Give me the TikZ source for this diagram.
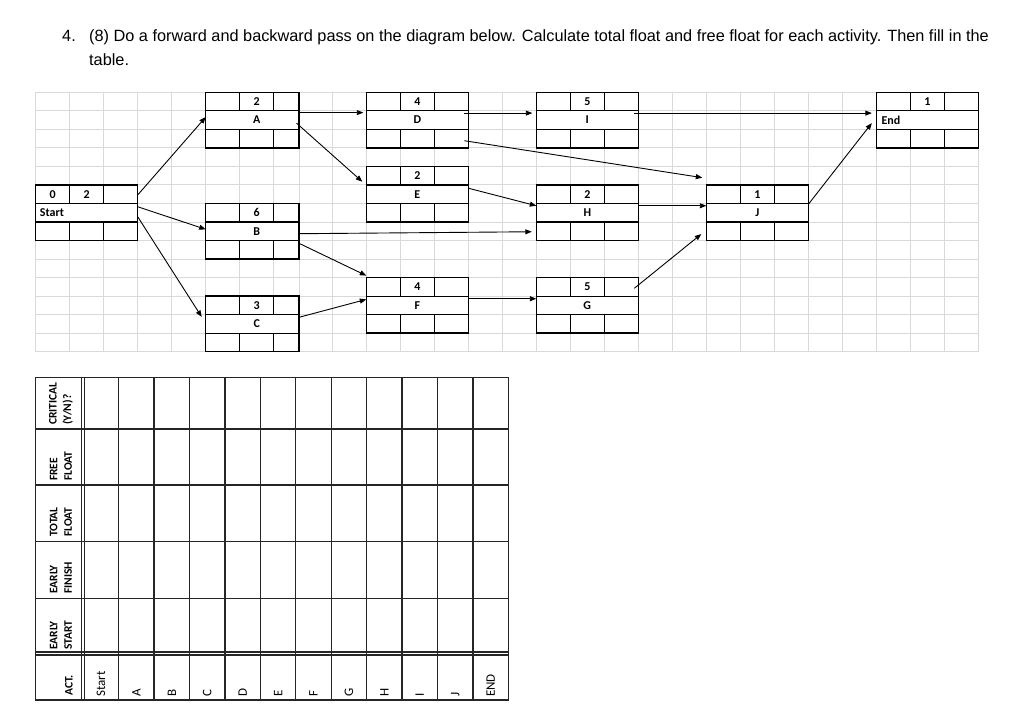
\documentclass[tikz,border=0pt]{standalone}
\usepackage{fontspec}
\setmainfont{Carlito}
\newfontfamily\titlefont{Liberation Sans}
\usetikzlibrary{arrows.meta}
\definecolor{gridgray}{RGB}{217,217,217}
\tikzset{
    gridline/.style={gridgray, line width=1pt},
    actnode/.style={draw, line width=1.5pt, fill=white, inner sep=0pt, outer sep=0pt, minimum height=55.6pt},
    boxline/.style={line width=1.2pt},
    celltext/.style={inner sep=0pt, font=\bfseries\fontsize{12}{14}\selectfont},
    arr/.style={line width=0.9pt, -{Triangle[length=6.5pt,width=5pt]}},
    tabline/.style={line width=1.3pt, black!85},
    headtext/.style={rotate=90, anchor=west, align=left, inner sep=0pt, font=\bfseries\fontsize{11.5}{14.5}\selectfont},
    acttext/.style={rotate=90, anchor=west, inner sep=0pt, font=\fontsize{13}{15}\selectfont},
    titletext/.style={anchor=base west, inner sep=0pt, font=\titlefont\fontsize{16.3}{20}\selectfont}
}
\newcommand{\actbox}[6]{%
    \node[actnode, minimum width=#4pt, anchor=north west] (#1) at (#2,#3) {};
    \draw[boxline] ([yshift=-18.53pt]#1.north west) -- ([yshift=-18.53pt]#1.north east)
        ([yshift=18.53pt]#1.south west) -- ([yshift=18.53pt]#1.south east)
        ([xshift=34pt]#1.north west) -- ++(0,18.53) ([xshift=68pt]#1.north west) -- ++(0,18.53)
        ([xshift=34pt]#1.south west) -- ++(0,-18.53) ([xshift=68pt]#1.south west) -- ++(0,-18.53);
    \node[celltext] (#1-dur) at ([shift={(51pt,-9.27pt)}]#1.north west) {#5};
    \node[celltext] (#1-name) at ([shift={(51pt,-27.8pt)}]#1.north west) {#6};
}
\begin{document}
\begin{tikzpicture}[x=1pt, y=-1pt]
    \useasboundingbox (0,0) rectangle (1024,713);

    \node[titletext] (num) at (62,41) {4.};
    \node[titletext] (ttl1) at (89,41) {(8) Do a forward and backward pass on the diagram below. Calculate total float and free float for each activity. Then fill in the};
    \node[titletext] (ttl2) at (89,65.3) {table.};

    \foreach \k in {0,...,14} \draw[gridline] (35.7,{92.3+18.53*\k}) -- (978.3,{92.3+18.53*\k});
    \foreach \k in {0,...,7} \draw[gridline] ({35.7+34*\k},92.3) -- ({35.7+34*\k},351.7);
    \foreach \k in {0,...,18} \draw[gridline] ({366.3+34*\k},92.3) -- ({366.3+34*\k},351.7);
    \draw[gridline] (299,92.3) -- (299,351.7) (332.5,92.3) -- (332.5,351.7);

    \actbox{Start}{35.7}{184.95}{102}{2}{}
    \actbox{A}{205.7}{92.3}{93.3}{2}{A}
    \actbox{B}{205.7}{203.5}{93.3}{6}{B}
    \actbox{C}{205.7}{296.1}{93.3}{3}{C}
    \actbox{D}{366.3}{92.3}{102}{4}{D}
    \actbox{E}{366.3}{166.4}{102}{2}{E}
    \actbox{F}{366.3}{277.6}{102}{4}{F}
    \actbox{I}{536.3}{92.3}{102}{5}{I}
    \actbox{H}{536.3}{184.95}{102}{2}{H}
    \actbox{G}{536.3}{277.6}{102}{5}{G}
    \actbox{J}{706.3}{184.95}{102}{1}{J}
    \actbox{End}{876.3}{92.3}{102}{1}{}
    \node[celltext] (Start-es) at ([shift={(17pt,-9.27pt)}]Start.north west) {0};
    \node[celltext, anchor=west] (Start-lbl) at ([shift={(4pt,-27.8pt)}]Start.north west) {Start};
    \node[celltext, anchor=west] (End-lbl) at ([shift={(5pt,-27.8pt)}]End.north west) {End};

    \draw[arr] ([yshift=-10pt]Start.north east) -- ([yshift=3pt]A.west);
    \draw[arr] ([yshift=6pt]Start.east) -- ([yshift=2pt]B.west);
    \draw[arr] ([yshift=-4pt]Start.east) -- ([shift={(-4pt,7pt)}]C.west);
    \draw[arr] ([yshift=7.5pt]A.east) -- ([shift={(-3pt,7.5pt)}]D.west);
    \draw[arr] ([shift={(-2.5pt,-3pt)}]A.east) -- ([shift={(-4pt,12.5pt)}]E.west);
    \draw[arr] ([yshift=-2.4pt]B.east) -- ([shift={(-4.5pt,-19pt)}]H.west);
    \draw[arr] ([yshift=-12pt]B.east) -- ([yshift=2pt]F.north west);
    \draw[arr] ([yshift=6.6pt]C.east) -- ([yshift=6pt]F.west);
    \draw[arr] ([shift={(-4pt,7pt)}]D.east) -- ([shift={(-4pt,7pt)}]I.west);
    \draw[arr] ([shift={(-4pt,-20.6pt)}]D.east) -- ([shift={(-4pt,7.3pt)}]J.north west);
    \draw[arr] ([yshift=6pt]E.east) -- ([yshift=7pt]H.west);
    \draw[arr] ([yshift=6.7pt]F.east) -- ([yshift=6.7pt]G.west);
    \draw[arr] ([shift={(-4pt,7pt)}]I.east) -- ([shift={(-4.5pt,7pt)}]End.west);
    \draw[arr] ([yshift=7pt]H.east) -- ([yshift=7pt]J.west);
    \draw[arr] ([shift={(-4pt,-10.7pt)}]G.north east) -- ([shift={(-5pt,6.5pt)}]J.south west);
    \draw[arr] ([yshift=8.4pt]J.east) -- ([shift={(-4.5pt,-3pt)}]End.west);

    \draw[tabline] (35.7,377.3) rectangle (508.3,700);
    \foreach \y in {429,485,541.7,598.3,652,655} \draw[tabline] (35.7,\y) -- (508.3,\y);
    \foreach \k in {1,...,11} \draw[tabline] ({83.3+35.42*\k},377.3) -- ({83.3+35.42*\k},700);
    \draw[tabline] (81.7,377.3) -- (81.7,700) (84.7,377.3) -- (84.7,700);

    \node[headtext] (crit) at (61,425) {CRITICAL\\(Y/N)?};
    \node[headtext] (free) at (61,481) {FREE\\FLOAT};
    \node[headtext] (total) at (61,537) {TOTAL\\FLOAT};
    \node[headtext] (ef) at (61,594) {EARLY\\FINISH};
    \node[headtext] (es) at (61,650) {EARLY\\START};
    \node[headtext] (act) at (69,696) {ACT.};
    \foreach \t [count=\i from 0] in {Start,A,B,C,D,E,F,G,H,I,J,END}
        \node[acttext] (act\i) at ({101+35.42*\i},697) {\t};
\end{tikzpicture}
\end{document}
